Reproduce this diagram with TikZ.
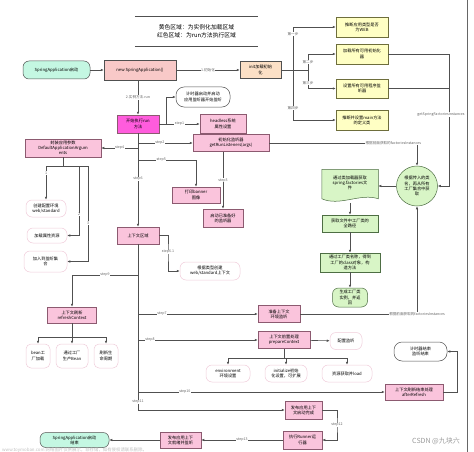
\documentclass[tikz,border=0pt]{standalone}
\usepackage{fontspec}
\setmainfont{Noto Sans CJK SC}
\usetikzlibrary{arrows.meta,shapes.geometric,backgrounds}

\definecolor{linegray}{HTML}{505050}
\definecolor{labelgray}{HTML}{666666}
\definecolor{pinkfill}{HTML}{FAC4DC}
\definecolor{pinkline}{HTML}{8C5A70}
\definecolor{magfill}{HTML}{FF5CDD}
\definecolor{yelfill}{HTML}{FFFFC4}
\definecolor{yelline}{HTML}{6E6E3C}
\definecolor{grnfill}{HTML}{D8F5C6}
\definecolor{grnline}{HTML}{4E6E44}
\definecolor{mintfill}{HTML}{C4F7E2}
\definecolor{peachfill}{HTML}{FCE0C6}
\definecolor{salmonfill}{HTML}{F8C9C8}
\definecolor{softline}{HTML}{F0CCDA}

\newcommand\boxfont{\fontsize{4.2}{5.2}\selectfont}
\newcommand\lblfont{\fontsize{3.6}{4.4}\selectfont}

\tikzset{
  box/.style={draw=linegray, line width=0.5pt, inner sep=0.5pt, align=center, font=\boxfont},
  redbox/.style={box, draw=pinkline, fill=pinkfill},
  runbox/.style={box, draw=pinkline, fill=magfill},
  yelbox/.style={box, draw=yelline, fill=yelfill},
  grnbox/.style={box, draw=grnline, fill=grnfill},
  startbox/.style={box, fill=mintfill, rounded corners=6pt},
  softbox/.style={box, draw=softline, fill=white, rounded corners=6pt},
  timerbox/.style={box, fill=white, rounded corners=8pt},
  lbl/.style={font=\lblfont, text=labelgray, fill=white, inner sep=0.5pt},
  line/.style={draw=linegray, line width=0.6pt},
  flow/.style={line, -{Latex[length=3pt,width=2.6pt]}},
}

\begin{document}
\begin{tikzpicture}[x=1pt, y=-1pt]
  \useasboundingbox (0,0) rectangle (474,452);

  % 标题
  \node[font=\fontsize{5.8}{8.5}\selectfont, align=center, minimum width=123pt, minimum height=29pt, inner sep=0pt] (title) at (196.5,31.5) {黄色区域：为实例化加载区域\\红色区域：为run方法执行区域};
  \draw[line] (title.north west) -- (title.north east);
  \draw[line] (title.south west) -- (title.south east);

  % 实例化区域
  \node[startbox, minimum width=67pt, minimum height=18pt] (start) at (56.5,70) {SpringApplication启动};
  \node[box, fill=salmonfill, minimum width=72pt, minimum height=20pt] (newsa) at (140,70) {new SpringApplication()};
  \node[box, fill=peachfill, minimum width=41pt, minimum height=17pt] (init) at (260.5,70) {init加载初始\\化};

  \node[yelbox, minimum width=52pt, minimum height=20pt] (infer) at (362,27) {推断应用类型是否\\为WEB};
  \node[yelbox, minimum width=52pt, minimum height=20pt] (initr) at (362,54) {加载所有可用初始化\\器};
  \node[yelbox, minimum width=52pt, minimum height=19pt] (lsnr) at (362,88.5) {设置所有可用程序监\\听器};
  \node[yelbox, minimum width=52pt, minimum height=20pt] (mainc) at (362,120) {推断并设置main方法\\的定义类};

  \coordinate (b1) at (293,70);
  \coordinate (b2) at (308,70);
  \coordinate (rbus) at (449,186);

  \draw[flow] (start) -- (newsa);
  \draw[flow] (newsa) -- node[lbl]{1.初始化} (init);
  \draw[line] (init) -- (b2);
  \draw[flow] (b1) |- node[lbl, pos=0.42]{第一步} (infer.west);
  \draw[flow] (b2) |- node[lbl, pos=0.25]{第二步} (initr.west);
  \draw[flow] (b2) |- node[lbl, pos=0.35]{第三步} (lsnr.west);
  \draw[flow] (b1) |- node[lbl, pos=0.38]{第四步} (mainc.west);

  % 工厂实例获取
  \node[grnbox, ellipse, minimum width=41pt, minimum height=40pt, inner sep=0pt] (pick) at (417,186) {根据传入的类\\名，再从所有\\工厂集合中获\\取};
  \node[box, draw=none, minimum width=56pt, minimum height=33pt] (spfile) at (350,186) {通过类加载器获取\\spring.factories文\\件\\[1pt]};
  \begin{scope}[on background layer]
    \draw[grnline, line width=0.5pt, fill=grnfill] (spfile.north west) -- (spfile.north east) -- ([yshift=4pt]spfile.south east) .. controls ([xshift=-18pt,yshift=10pt]spfile.south east) and ([xshift=18pt,yshift=-4pt]spfile.south west) .. ([yshift=4pt]spfile.south west) -- cycle;
  \end{scope}
  \node[grnbox, minimum width=56pt, minimum height=17pt] (fullpath) at (350,223.5) {获取文件中工厂类的\\全路径};
  \node[grnbox, minimum width=60pt, minimum height=19pt] (cls) at (350,262.5) {通过工厂类名称，得到\\工厂的class对象，构\\造方法};
  \node[grnbox, rounded corners=6pt, minimum width=35pt, minimum height=19pt] (inst) at (350,297.5) {生成工厂类\\实例，并返\\回};

  \draw[flow] (initr.east) -| node[lbl, pos=0.73, xshift=-8pt]{getSpringFactoriesInstances} (rbus) -- (pick.east);
  \draw[line] (lsnr.east) -- (lsnr.east -| rbus);
  \draw[flow] (pick.west) -- (pick.west -| spfile.east);
  \draw[flow] (spfile) -- (fullpath);
  \draw[flow] (fullpath) -- (cls);
  \draw[flow] (cls) -- (inst);

  % run方法执行区域
  \node[runbox, minimum width=42pt, minimum height=18pt] (run) at (138,124) {开始执行run\\方法};
  \node[timerbox, minimum width=54pt, minimum height=20pt] (timer) at (203,97) {计时器启动并启动\\应用监听器开始监听};
  \node[redbox, minimum width=46pt, minimum height=19pt] (headless) at (223,124) {headless系统\\属性设置};
  \node[redbox, minimum width=76pt, minimum height=17pt] (getrl) at (231,143) {初始化监听器\\getRunListeners(args)};
  \node[redbox, minimum width=48pt, minimum height=16pt] (banner) at (196,195) {打印banner\\图像};
  \node[redbox, minimum width=40pt, minimum height=18pt] (startl) at (223,218) {启动已准备好\\的监听器};
  \node[redbox, minimum width=76pt, minimum height=18pt] (args) at (63,148) {封装应用参数\\DefaultApplicationArgum\\ents};
  \node[softbox, minimum width=40pt, minimum height=17pt] (env) at (46,208.5) {创建配置环境\\web/standard};
  \node[softbox, minimum width=40pt, minimum height=15pt] (prop) at (47,235.5) {加载属性资源};
  \node[softbox, minimum width=43pt, minimum height=21pt] (addl) at (45.5,261.5) {加入到监听集\\合};
  \node[redbox, minimum width=42pt, minimum height=17pt] (ctx) at (138,235.5) {上下文区域};
  \node[softbox, minimum width=60pt, minimum height=18pt] (ctxtype) at (210,271) {根据类型创建\\web/standard上下文};

  \coordinate (tj) at (166,124);
  \coordinate (t2) at (138,143);
  \coordinate (t4) at (138,148);
  \coordinate (t5) at (138,160);
  \coordinate (abus) at (63,166);
  \coordinate (a2) at (79,166);
  \coordinate (a3) at (88,166);
  \coordinate (cj) at (168,252);

  \draw[flow] (newsa.south -| run.north) -- node[lbl]{2.实例方法.run} (run.north);
  \draw[flow] (tj) |- (timer.west);
  \draw[flow] (run.east) -- node[lbl]{step1} (headless.west);
  \draw[flow] (run.south) -- node[lbl, pos=0.49]{step6} (ctx.north);
  \draw[flow] (t2) -- node[lbl, pos=0.4]{step2} (getrl.west);
  \draw[flow] (t4) -- node[lbl]{step4} (args.east);
  \draw[flow] (t5) -| node[lbl, pos=0.2]{step5} (banner.north);
  \draw[flow] (startl.north |- getrl.south) -- node[lbl]{step3} (startl.north);
  \draw[flow] (getrl.east) -| node[lbl, pos=0.42]{根据前面获取的factoriesInstances} (pick.north);

  \draw[line] (args) -- (abus);
  \draw[flow] (abus) -| node[lbl, pos=0.6]{1} (env.north);
  \draw[flow] (abus) -- (a3) |- node[lbl, pos=0.3]{3} (addl.east);
  \draw[flow] (a2) |- node[lbl, pos=0.35]{2} (prop.east);
  \draw[flow] (ctx.east) -| (cj) node[lbl]{step6.1} |- (ctxtype.west);

  % 上下文处理
  \node[redbox, minimum width=49pt, minimum height=16pt] (refresh) at (72,315) {上下文刷新\\refreshContext};
  \node[softbox, rounded corners=5pt, minimum width=24pt, minimum height=24pt] (beanf) at (38,356) {bean工\\厂加载};
  \node[softbox, rounded corners=5pt, minimum width=32pt, minimum height=24pt] (beanp) at (72,356) {通过工厂\\生产Bean};
  \node[softbox, rounded corners=5pt, minimum width=24pt, minimum height=24pt] (life) at (106,356) {刷新生\\命周期};
  \node[redbox, minimum width=42pt, minimum height=17pt] (prep) at (279,314) {准备上下文\\环境监听};
  \node[redbox, minimum width=52pt, minimum height=17pt] (prepctx) at (284,340) {上下文前置处理\\prepareContext};
  \node[softbox, minimum width=32pt, minimum height=17pt] (cfgl) at (346,341) {配置监听};
  \node[softbox, minimum width=44pt, minimum height=17pt] (envset) at (228,373.5) {environment\\环境设置};
  \node[softbox, minimum width=42pt, minimum height=17pt] (initset) at (286,373.5) {initialize初始\\化设置，可扩展};
  \node[softbox, minimum width=50pt, minimum height=17pt] (resload) at (347,373.5) {资源获取并load};
  \node[timerbox, minimum width=53pt, minimum height=19pt] (timerend) at (420.5,351.5) {计时器结束\\监听结束};
  \node[redbox, minimum width=58pt, minimum height=16pt] (afterr) at (414,392) {上下文刷新结束处理\\afterRefresh};
  \node[redbox, minimum width=37pt, minimum height=18pt] (pubstart) at (303.5,410) {发布应用上下\\文启动完成};
  \node[redbox, minimum width=39pt, minimum height=18pt] (runner) at (302.5,440) {执行Runner运\\行器};
  \node[redbox, minimum width=41pt, minimum height=16pt] (pubready) at (180.5,440) {发布应用上下\\文就绪并监听};
  \node[startbox, minimum width=69pt, minimum height=15pt] (finish) at (74.5,440) {SpringApplication启动\\结束};

  \coordinate (t9) at (138,275);
  \coordinate (t7) at (138,314);
  \coordinate (t8) at (138,340);
  \coordinate (t10) at (138,392);
  \coordinate (tb) at (138,410);
  \coordinate (rbus2) at (72,337);
  \coordinate (pbus) at (284,358);
  \coordinate (aj) at (457,351.5);
  \coordinate (pj) at (337,425);

  \draw[line] (ctx.south) -- node[lbl, pos=0.95]{step11} (tb);
  \draw[flow] (tb) -- (pubstart.west);
  \draw[flow] (t9) -| node[lbl, pos=0.25]{step9} (refresh.north);
  \draw[flow] (t7) -- node[lbl, pos=0.2]{step7} (prep.west);
  \draw[flow] (t8) -- node[lbl, pos=0.1]{step8} (prepctx.west);
  \draw[flow] (t10) -- node[lbl, pos=0.19]{step10} (afterr.west);

  \draw[line] (refresh) -- (rbus2);
  \draw[flow] (rbus2) -| (beanf);
  \draw[flow] (rbus2) -- (beanp);
  \draw[flow] (rbus2) -| (life);

  \draw[flow] (prep.east) -| node[lbl, pos=0.5]{根据前面获取的factoriesInstances} (pick.south);
  \draw[flow] (prepctx) -- (cfgl);
  \draw[line] (prepctx) -- (pbus);
  \draw[flow] (pbus) -| (envset);
  \draw[flow] (pbus) -| (initset);
  \draw[flow] (pbus) -| (resload);

  \draw[flow] (afterr.east) -| (aj) -- (timerend.east);
  \draw[flow] (pubstart.east) -| (pj) node[lbl]{step12} |- (runner.east);
  \draw[flow] (runner) -- node[lbl]{step13} (pubready);
  \draw[flow] (pubready) -- (finish);

  % 边框与水印
  \draw[black!60, line width=0.8pt] (467,0) -- (467,452);
  \node[font=\fontsize{4.4}{5}\selectfont, text=black!25, anchor=base west, inner sep=0pt] (wm) at (2,451.5) {www.toymoban.com 网络图片仅供展示，非存储，如有侵权请联系删除。};
  \node[font=\fontsize{7}{8}\selectfont, text=black!40, inner sep=0pt] (csdn) at (436,441) {CSDN @九块六};
\end{tikzpicture}
\end{document}
